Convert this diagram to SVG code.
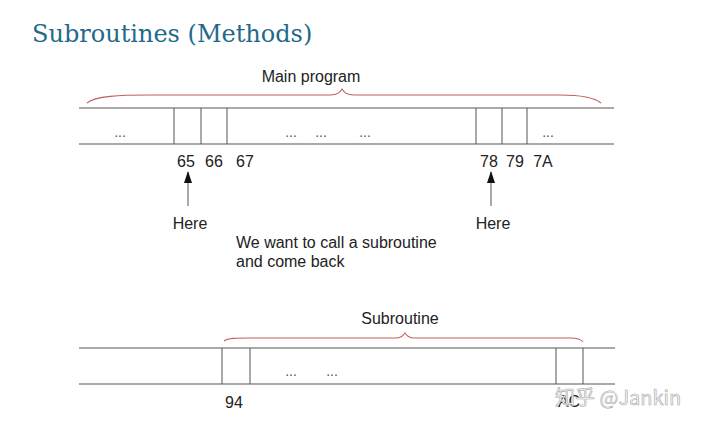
<svg xmlns="http://www.w3.org/2000/svg" width="704" height="425" viewBox="0 0 704 425">
<style>
.t{font-family:"Liberation Sans",Arial,sans-serif;font-size:16px;fill:#222}
.d{font-family:"Liberation Sans",Arial,sans-serif;font-size:14px;fill:#555}
.ln{stroke:#555;stroke-width:1.2;fill:none}
.v{stroke:#555;stroke-width:1;fill:none}
.br{stroke:#c0605e;stroke-width:1.1;fill:none}
.ar{stroke:#555;stroke-width:1;fill:none}
</style>
<defs>
<marker id="ah" markerWidth="12" markerHeight="8" refX="11" refY="4" orient="auto" markerUnits="userSpaceOnUse" viewBox="0 0 12 8">
<path d="M0,0 L12,4 L0,8 Z" fill="#111"/>
</marker>
</defs>
<rect width="704" height="425" fill="#fff"/>
<text x="32" y="42" font-family="DejaVu Serif,serif" font-size="24" fill="#1f6a8c">Subroutines (Methods)</text>

<g id="main-program">
<text class="t" x="311" y="82" text-anchor="middle">Main program</text>
<path class="br" d="M87,103 C95,96 120,95 150,95 L330,95 C338,95 340,92 342,89 C344,92 346,95 354,95 L560,95 C585,95 595,98 601,103"/>
<line class="ln" x1="79" y1="108" x2="614" y2="108"/>
<line class="ln" x1="79" y1="144" x2="614" y2="144"/>
<line class="v" x1="174" y1="108" x2="174" y2="144"/>
<line class="v" x1="201" y1="108" x2="201" y2="144"/>
<line class="v" x1="227" y1="108" x2="227" y2="144"/>
<line class="v" x1="476" y1="108" x2="476" y2="144"/>
<line class="v" x1="502" y1="108" x2="502" y2="144"/>
<line class="v" x1="527" y1="108" x2="527" y2="144"/>
<text class="d" x="120" y="137" text-anchor="middle">...</text>
<text class="d" x="291" y="137" text-anchor="middle">...</text>
<text class="d" x="321" y="137" text-anchor="middle">...</text>
<text class="d" x="365" y="137" text-anchor="middle">...</text>
<text class="d" x="548" y="137" text-anchor="middle">...</text>
<text class="t" x="186" y="167" text-anchor="middle">65</text>
<text class="t" x="214" y="167" text-anchor="middle">66</text>
<text class="t" x="245" y="167" text-anchor="middle">67</text>
<text class="t" x="489" y="167" text-anchor="middle">78</text>
<text class="t" x="515" y="167" text-anchor="middle">79</text>
<text class="t" x="543" y="167" text-anchor="middle">7A</text>
</g>

<g id="connectors">
<line class="ar" x1="188" y1="206" x2="188" y2="172" marker-end="url(#ah)"/>
<line class="ar" x1="491" y1="206" x2="491" y2="172" marker-end="url(#ah)"/>
</g>

<g id="here-labels">
<text class="t" x="190" y="229" text-anchor="middle">Here</text>
<text class="t" x="493" y="229" text-anchor="middle">Here</text>
<text class="t" x="236" y="248">We want to call a subroutine</text>
<text class="t" x="236" y="267">and come back</text>
</g>

<g id="subroutine">
<text class="t" x="400" y="324" text-anchor="middle">Subroutine</text>
<path class="br" d="M224,341 C228,338 236,338 250,338 L396,338 C401,338 403,336 405,333 C407,336 409,338 414,338 L570,338 C578,338 581,339 583,342"/>
<line class="ln" x1="79" y1="348" x2="615" y2="348"/>
<line class="ln" x1="79" y1="384" x2="615" y2="384"/>
<line class="v" x1="222" y1="348" x2="222" y2="384"/>
<line class="v" x1="250" y1="348" x2="250" y2="384"/>
<line class="v" x1="556" y1="348" x2="556" y2="384"/>
<line class="v" x1="583" y1="348" x2="583" y2="384"/>
<text class="d" x="291" y="376" text-anchor="middle">...</text>
<text class="d" x="332" y="376" text-anchor="middle">...</text>
<text class="t" x="234" y="408" text-anchor="middle">94</text>
<text class="t" x="569" y="407" text-anchor="middle">AC</text>
</g>

<text x="555" y="405" font-family="Noto Sans CJK SC,Noto Sans,sans-serif" font-size="20" fill="#f6f6f6" stroke="#aaa" stroke-width="0.6">知乎 @Jankin</text>
</svg>
